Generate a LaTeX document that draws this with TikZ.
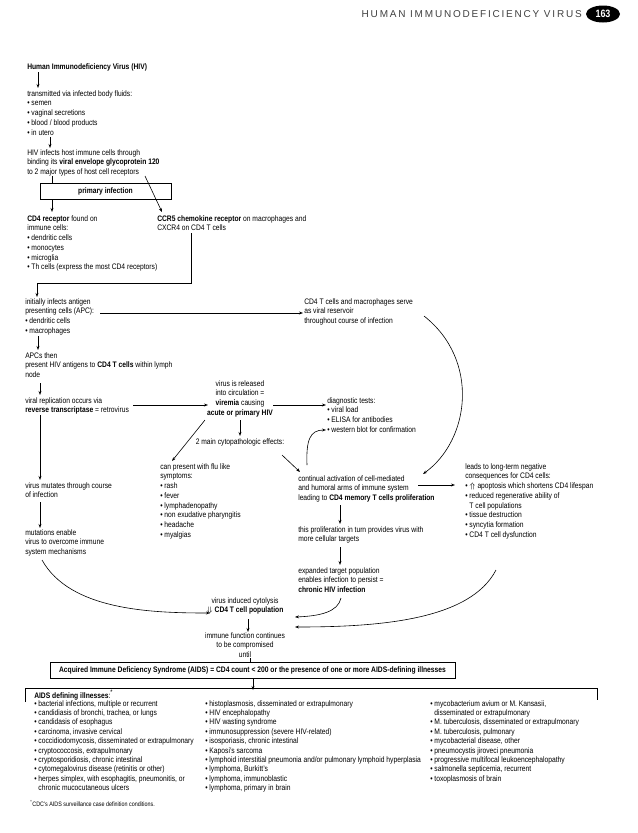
\documentclass[tikz,border=0pt]{standalone}
\usepackage{fontspec}
\setmainfont{Liberation Sans}[FakeStretch=0.84]
\newfontfamily\hdr{Liberation Sans}[LetterSpace=18]
\usetikzlibrary{arrows.meta}
\newcommand{\bu}{\textbullet\ }
\newcommand{\bs}{\phantom{\textbullet}\ }
\begin{document}
\begin{tikzpicture}[x=0.75pt,y=-0.75pt,
  t/.style={anchor=north west,inner sep=0pt,align=left,font=\fontsize{6}{7.3}\selectfont},
  tc/.style={t,anchor=north,align=center},
  b/.style={t,font=\fontsize{6}{7.05}\selectfont},
  ar/.style={-{Stealth[length=3pt,width=2.2pt]},line width=0.45pt},
  ln/.style={line width=0.45pt},
  bx/.style={draw,line width=0.5pt,inner sep=0pt,font=\fontsize{6}{7}\selectfont\bfseries}]
\useasboundingbox (0,0) rectangle (638,833);
% header
\node[anchor=east,inner sep=0pt,text=black!75,font=\hdr\fontsize{7.5}{8}\selectfont] (hd) at (582,14) {HUMAN IMMUNODEFICIENCY VIRUS};
\fill[black] (603,14) ellipse [x radius=17,y radius=8.5];
\node[text=white,inner sep=0pt,font=\fontsize{8}{9}\selectfont\bfseries] (pg) at (603,14) {163};
% nodes
\node[t] (hiv) at (27,63) {\textbf{Human Immunodeficiency Virus (HIV)}};
\node[t] (tr) at (27,90) {transmitted via infected body fluids:\\\bu semen\\\bu vaginal secretions\\\bu blood / blood products\\\bu in utero};
\node[t] (inf) at (27,149) {HIV infects host immune cells through\\binding its \textbf{viral envelope glycoprotein 120}\\to 2 major types of host cell receptors};
\node[bx,minimum width=131*0.75pt,minimum height=16*0.75pt] (prim) at (105.5,191) {primary infection};
\node[t] (cd4) at (27,215) {\textbf{CD4 receptor} found on\\immune cells:\\\bu dendritic cells\\\bu monocytes\\\bu microglia\\\bu Th cells (express the most CD4 receptors)};
\node[t] (ccr) at (157,215) {\textbf{CCR5 chemokine receptor} on macrophages and\\CXCR4 on CD4 T cells};
\node[t] (apc) at (25,298) {initially infects antigen\\presenting cells (APC):\\\bu dendritic cells\\\bu macrophages};
\node[t] (res) at (304,298) {CD4 T cells and macrophages serve\\as viral reservoir\\throughout course of infection};
\node[t] (apc2) at (25,352) {APCs then\\present HIV antigens to \textbf{CD4 T cells} within lymph\\node};
\node[t] (rep) at (25,397) {viral replication occurs via\\\textbf{reverse transcriptase} = retrovirus};
\node[tc] (vir) at (240,380) {virus is released\\into circulation =\\\textbf{viremia} causing\\\textbf{acute or primary HIV}};
\node[t] (diag) at (327,397) {diagnostic tests:\\\bu viral load\\\bu ELISA for antibodies\\\bu western blot for confirmation};
\node[tc] (two) at (240,438) {2 main cytopathologic effects:};
\node[t] (mut) at (25,482) {virus mutates through course\\of infection};
\node[t] (mut2) at (25,529) {mutations enable\\virus to overcome immune\\system mechanisms};
\node[t] (flu) at (160,463) {can present with flu like\\symptoms:\\\bu rash\\\bu fever\\\bu lymphadenopathy\\\bu non exudative pharyngitis\\\bu headache\\\bu myalgias};
\node[t] (cont) at (298,475) {continual activation of cell-mediated\\and humoral arms of immune system\\leading to \textbf{CD4 memory T cells proliferation}};
\node[t] (long) at (465,463) {leads to long-term negative\\consequences for CD4 cells:\\\bu $\Uparrow$ apoptosis which shortens CD4 lifespan\\\bu reduced regenerative ability of\\\bs T cell populations\\\bu tissue destruction\\\bu syncytia formation\\\bu CD4 T cell dysfunction};
\node[t] (prol) at (298,526) {this proliferation in turn provides virus with\\more cellular targets};
\node[t] (exp) at (298,567) {expanded target population\\enables infection to persist =\\\textbf{chronic HIV infection}};
\node[tc] (cyt) at (245,597) {virus induced cytolysis\\$\Downarrow$ \textbf{CD4 T cell population}};
\node[tc] (imm) at (245,632) {immune function continues\\to be compromised\\until};
\node[bx,minimum width=405*0.75pt,minimum height=16*0.75pt] (aids) at (252.5,670) {Acquired Immune Deficiency Syndrome (AIDS) = CD4 count \textless\ 200 or the presence of one or more AIDS-defining illnesses};
\node[b] (adi) at (34,690) {\textbf{AIDS defining illnesses}:\textsuperscript{*}};
\node[b] (c1) at (34,700) {\bu bacterial infections, multiple or recurrent\\\bu candidiasis of bronchi, trachea, or lungs\\\bu candidasis of esophagus\\\bu carcinoma, invasive cervical\\\bu coccidiodomycosis, disseminated or extrapulmonary\\\bu cryptococcosis, extrapulmonary\\\bu cryptosporidiosis, chronic intestinal\\\bu cytomegalovirus disease (retinitis or other)\\\bu herpes simplex, with esophagitis, pneumonitis, or\\\bs chronic mucocutaneous ulcers};
\node[b] (c2) at (205,700) {\bu histoplasmosis, disseminated or extrapulmonary\\\bu HIV encephalopathy\\\bu HIV wasting syndrome\\\bu immunosuppression (severe HIV-related)\\\bu isosporiasis, chronic intestinal\\\bu Kaposi's sarcoma\\\bu lymphoid interstitial pneumonia and/or pulmonary lymphoid hyperplasia\\\bu lymphoma, Burkitt's\\\bu lymphoma, immunoblastic\\\bu lymphoma, primary in brain};
\node[b] (c3) at (430,700) {\bu mycobacterium avium or M. Kansasii,\\\bs disseminated or extrapulmonary\\\bu M. tuberculosis, disseminated or extrapulmonary\\\bu M. tuberculosis, pulmonary\\\bu mycobacterial disease, other\\\bu pneumocystis jiroveci pneumonia\\\bu progressive multifocal leukoencephalopathy\\\bu salmonella septicemia, recurrent\\\bu toxoplasmosis of brain};
\node[b,font=\fontsize{4.8}{6}\selectfont] (fn) at (30,800) {\textsuperscript{*}CDC's AIDS surveillance case definition conditions.};
% coordinates
\coordinate (j1) at (191,283);
\coordinate (j2) at (37,283);
\coordinate (fl) at (25,688);
\coordinate (fr) at (597,688);
% connectors
\draw[ar] (38,72) -- (38,88);
\draw[ar] (50,137) -- (50,148);
\draw[ln] (52,176) -- (52,183);
\draw[ar] (52,199) -- (52,212);
\draw[ar] (145,176) -- (162,212);
\draw[ln] (191,233) -- (j1) -- (j2);
\draw[ar] (j2) -- (37,297);
\draw[ar] (100,313) -- (303,313);
\draw[ar] (38,336) -- (38,350);
\draw[ar] (40,383) -- (40,395);
\draw[ar] (133,405) -- (208,405);
\draw[ar] (273,405) -- (326,405);
\draw[ar] (240,420) -- (240,436);
\draw[ar] (205,420) -- (172,461);
\draw[ar] (282,455) -- (300,472);
\draw[ar] (307,465) .. controls (306,440) and (310,430) .. (326,430);
\draw[ar] (424,316) .. controls (480,360) and (470,440) .. (423,474);
\draw[ar] (40,415) -- (40,480);
\draw[ar] (40,502) -- (40,528);
\draw[ar] (418,485) -- (455,485);
\draw[ar] (340,505) -- (340,524);
\draw[ar] (340,547) -- (340,565);
\draw[ar] (42,560) .. controls (70,610) and (150,613) .. (210,613);
\draw[ar] (341,598) .. controls (338,612) and (320,616) .. (295,617);
\draw[ar] (496,570) .. controls (470,620) and (380,627) .. (295,627);
\draw[ar] (248,619) -- (248,632);
\draw[ln] (250,658) -- (aids.north -| 250,0);
\draw[ar] (aids.south -| 253,0) -- (253,690);
\draw[ln] (25,702) -- (fl) -- (fr) -- (597,700);
\end{tikzpicture}
\end{document}
